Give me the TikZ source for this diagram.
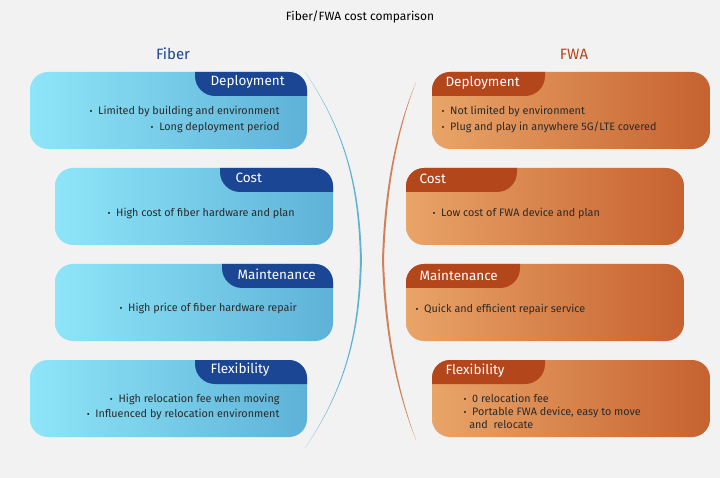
\documentclass[tikz,border=0pt]{standalone}
\usepackage{fontspec}
\setmainfont{Fira Sans}
\newcommand\bul{{\fontsize{9}{9}\selectfont\raisebox{-0.15ex}{\textbullet}}\ \ }
\begin{document}
\begin{tikzpicture}[x=1pt,y=-1pt,
  body/.style={font=\fontsize{10.8}{13}\selectfont\color[HTML]{2A2A2A},align=left,anchor=west},
  tabtxt/.style={font=\fontsize{13.5}{15}\selectfont,text=white,anchor=west}]
\fill[fill={rgb,255:red,242;green,242;blue,242}] (0,0) rectangle (720,478);
\useasboundingbox (0,0) rectangle (720,478);
\definecolor{bl}{HTML}{8FE5F8}\definecolor{br}{HTML}{5EB2D8}\definecolor{bt}{HTML}{1B4694}
\definecolor{ol}{HTML}{E9A468}\definecolor{or}{HTML}{C66230}\definecolor{ot}{HTML}{B4461C}
\node[font=\fontsize{12}{14}\selectfont] (title) at (360,17) {Fiber/FWA cost comparison};
\node[font=\fontsize{15}{17}\selectfont,text=bt] (fib) at (173,54) {Fiber};
\node[font=\fontsize{15}{17}\selectfont,text=ot] (fwa) at (574,54) {FWA};
\fill[br] (305,72) .. controls (352,140) and (360,200) .. (362,260) .. controls (360,320) and (352,380) .. (305,448)
  .. controls (351,380) and (358.5,320) .. (360,260) .. controls (358.5,200) and (351,140) .. cycle;
\fill[or!80] (416,82) .. controls (392,140) and (384,200) .. (382,260) .. controls (384,320) and (392,380) .. (416,440)
  .. controls (394,380) and (386,320) .. (384,260) .. controls (386,200) and (394,140) .. cycle;
\foreach \xa/\xb/\yt/\xt/\lab/\nm in {30/307/72/195/Deployment/la,55/333/168/220/Cost/lb,55/333/264/222/Maintenance/lc,30/307/360/195/Flexibility/ld}{
  \pgfmathsetmacro\yb{\yt+77}\pgfmathsetmacro\ym{\yt+24}\pgfmathsetmacro\yu{\yt-2}\pgfmathsetmacro\xe{\xb+2}\pgfmathsetmacro\xl{\xt+12}\pgfmathsetmacro\yl{\yt+10}
  \begin{scope}
  \path[clip,rounded corners=18] (\xa,\yt) rectangle (\xb,\yb);
  \shade[left color=bl,right color=br] (\xa,\yt) rectangle (\xb,\yb);
  \fill[bt] (\xt,\yu) [rounded corners=20] -- (\xt,\ym) [sharp corners] -- (\xe,\ym) -- (\xe,\yu) -- cycle;
  \end{scope}
  \node[tabtxt] (\nm) at (\xl,\yl) {\lab};
}
\foreach \xa/\xb/\yt/\xt/\lab/\nm in {432/710/72/545/Deployment/ra,406/684/168/517/Cost/rb,406/684/264/520/Maintenance/rc,432/710/360/545/Flexibility/rd}{
  \pgfmathsetmacro\yb{\yt+77}\pgfmathsetmacro\ym{\yt+24}\pgfmathsetmacro\yu{\yt-2}\pgfmathsetmacro\xe{\xa-2}\pgfmathsetmacro\xl{\xa+10}\pgfmathsetmacro\yl{\yt+11}
  \begin{scope}
  \path[clip,rounded corners=18] (\xa,\yt) rectangle (\xb,\yb);
  \shade[left color=ol,right color=or] (\xa,\yt) rectangle (\xb,\yb);
  \fill[ot] (\xt,\yu) [rounded corners=20] -- (\xt,\ym) [sharp corners] -- (\xe,\ym) -- (\xe,\yu) -- cycle;
  \end{scope}
  \node[tabtxt] (\nm) at (\xl,\yl) {\lab};
}
\node[body,anchor=east] (t1) at (283,111) {\bul Limited by building and environment};
\node[body,anchor=east] (t1b) at (283,127) {\bul Long deployment period};
\node[body] (t2) at (104,213) {\bul High cost of fiber hardware and plan};
\node[body] (t3) at (116,308) {\bul High price of fiber hardware repair};
\node[body,anchor=east] (t4) at (283,399) {\bul High relocation fee when moving};
\node[body,anchor=east] (t4b) at (283,414) {\bul Influenced by relocation environment};
\node[body] (u1) at (438,111) {\bul Not limited by environment};
\node[body] (u1b) at (438,127) {\bul Plug and play in anywhere 5G/LTE covered};
\node[body] (u2) at (429,213) {\bul Low cost of FWA device and plan};
\node[body] (u3) at (412,309) {\bul Quick and efficient repair service};
\node[body] (u4) at (460,411) {\bul 0 relocation fee\\\bul Portable FWA device, easy to move\\\ \ and\ \ relocate};
\end{tikzpicture}
\end{document}
